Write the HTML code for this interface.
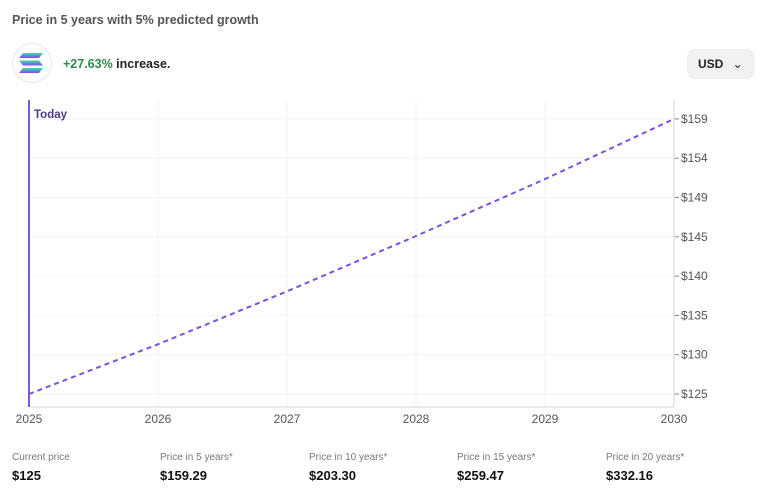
<!DOCTYPE html>
<html><head><meta charset="utf-8"><style>
body{margin:0;width:768px;height:496px;background:#fff;font-family:"Liberation Sans",sans-serif;overflow:hidden;position:relative}
.t{position:absolute;white-space:nowrap}
</style></head><body>
<div class="t" style="left:12px;top:13px;font-size:12.5px;color:#555;font-weight:bold">Price in 5 years with 5% predicted growth</div>
<div style="position:absolute;left:12px;top:43px;width:40px;height:40px;border-radius:50%;border:1px solid #e6e6e6;box-sizing:border-box">
<svg width="38" height="38" viewBox="0 0 38 38"><defs><linearGradient id="g" x1="0" y1="0" x2="0" y2="1"><stop offset="0" stop-color="#2ee6a8"/><stop offset="1" stop-color="#9a3cf0"/></linearGradient></defs>
<polygon points="10,9 30,9 26,14 6,14" fill="url(#g)"/><polygon points="6,16.5 26,16.5 30,21.5 10,21.5" fill="url(#g)"/><polygon points="10,24 30,24 26,29 6,29" fill="url(#g)"/></svg></div>
<div class="t" style="left:63px;top:57px;font-size:12.5px;font-weight:bold;color:#222"><span style="color:#2e8b4a">+27.63%</span> increase.</div>
<div style="position:absolute;left:687px;top:49px;width:68px;height:30px;border-radius:8px;background:#f0f1f3;font-size:12px;font-weight:bold;color:#222;line-height:30px;text-indent:11px">USD <span style="font-weight:normal;margin-left:6px">⌄</span></div>
<svg id="ch" width="768" height="440" style="position:absolute;left:0;top:0"></svg>
<div class="t" style="left:12px;top:452px;font-size:10px;color:#777">Current price</div>
<div class="t" style="left:12px;top:468px;font-size:13px;font-weight:bold;color:#111">$125</div>
<div class="t" style="left:160px;top:452px;font-size:10px;color:#777">Price in 5 years*</div>
<div class="t" style="left:160px;top:468px;font-size:13px;font-weight:bold;color:#111">$159.29</div>
<div class="t" style="left:309px;top:452px;font-size:10px;color:#777">Price in 10 years*</div>
<div class="t" style="left:309px;top:468px;font-size:13px;font-weight:bold;color:#111">$203.30</div>
<div class="t" style="left:457px;top:452px;font-size:10px;color:#777">Price in 15 years*</div>
<div class="t" style="left:457px;top:468px;font-size:13px;font-weight:bold;color:#111">$259.47</div>
<div class="t" style="left:606px;top:452px;font-size:10px;color:#777">Price in 20 years*</div>
<div class="t" style="left:606px;top:468px;font-size:13px;font-weight:bold;color:#111">$332.16</div>
<script>
const years=[2025,2026,2027,2028,2029,2030];
const prices=[125,131.2,137.8,144.7,151.8,159.3];
const tickVals=[125,129.9,134.8,139.7,144.6,149.5,154.4,159.3];
const tickLabels=["$125","$130","$135","$140","$145","$149","$154","$159"];
const svg=document.getElementById('ch');const NS='http://www.w3.org/2000/svg';
const x0=29,x1=674,y0=394,y1=119,vmin=125,vmax=159.29;
const xs=i=>x0+(x1-x0)*i/(years.length-1);
const ys=v=>y0-(y0-y1)*(v-vmin)/(vmax-vmin);
function mk(t,a){const e=document.createElementNS(NS,t);for(const k in a)e.setAttribute(k,a[k]);svg.appendChild(e);return e;}
tickVals.forEach((v,i)=>{const y=ys(v);
const g=mk('line',{x1:x0,x2:x1,y1:y,y2:y,stroke:'#f2f2f2'});
mk('line',{x1:x1,x2:x1+5,y1:y,y2:y,stroke:'#888'});
const t=mk('text',{x:x1+7,y:y+4,'font-size':12,fill:'#555','font-family':'Liberation Sans'});t.textContent=tickLabels[i];
});
years.forEach((yr,i)=>{const x=xs(i);
const g=mk('line',{x1:x,x2:x,y1:100,y2:407,stroke:'#f2f2f2'});
const t=mk('text',{x:x,y:423,'font-size':12,fill:'#555','text-anchor':'middle','font-family':'Liberation Sans'});t.textContent=yr;
});
const ax=mk('line',{x1:x0,x2:x1,y1:407,y2:407,stroke:'#e3e3e3','stroke-width':1.5});
const ay=mk('line',{x1:x1,x2:x1,y1:100,y2:407,stroke:'#e3e3e3','stroke-width':1.5});
const td=mk('line',{x1:x0,x2:x0,y1:100,y2:407,stroke:'#7b5cd6','stroke-width':2});
const tt=mk('text',{x:34,y:118,'font-size':11.5,'font-weight':'bold',fill:'#4a3a8a','font-family':'Liberation Sans'});tt.textContent='Today';

const p=mk('polyline',{points:prices.map((v,i)=>xs(i)+','+ys(v)).join(' '),fill:'none',stroke:'#7b4fe0','stroke-width':2,'stroke-dasharray':'5,4'});

</script>
</body></html>
